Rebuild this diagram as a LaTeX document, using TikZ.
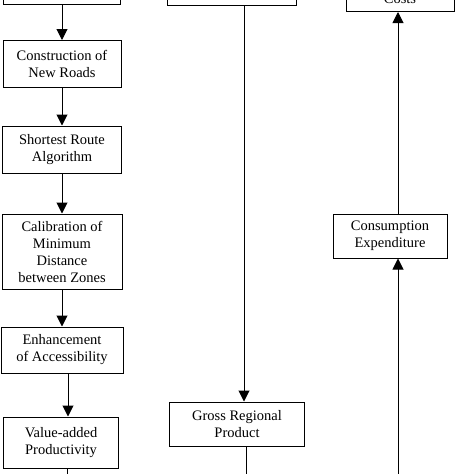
\documentclass[tikz,border=0pt]{standalone}
\usepackage{fontspec}
\setmainfont{Liberation Serif}
\usetikzlibrary{arrows.meta}
\tikzset{
  box/.style={draw,line width=1pt,align=center,inner sep=2pt,font=\fontsize{14.5}{17}\selectfont},
  arr/.style={-{Triangle[length=11pt,width=11pt]},line width=1pt},
  ln/.style={line width=1pt}
}
\begin{document}
\begin{tikzpicture}[x=1pt,y=-1pt]
\useasboundingbox (0,0) rectangle (474,474);
\clip (0,0) rectangle (474,474);
% left column
\node[box,anchor=south,minimum width=117,minimum height=50](top1)at(62,5){};
\node[box,minimum width=118,minimum height=47](road)at(62,64){Construction of\\New Roads};
\node[box,minimum width=119,minimum height=47](route)at(62,149.5){Shortest Route\\Algorithm};
\node[box,minimum width=120,minimum height=75](calib)at(62,251.5){Calibration of\\Minimum\\Distance\\between Zones};
\node[box,minimum width=122,minimum height=46](access)at(62,350){Enhancement\\of Accessibility};
\node[box,minimum width=115,minimum height=51](value)at(61,442.5){Value-added\\Productivity};
% middle column
\node[box,anchor=south,minimum width=129,minimum height=50](top2)at(232,6){};
\node[box,minimum width=135,minimum height=44](gdp)at(237,424){Gross Regional\\Product};
% right column
\node[box,anchor=south,minimum width=108,inner ysep=8pt](top3)at(400,12){Costs};
\node[box,minimum width=114,minimum height=44](cons)at(390,236){Consumption\\Expenditure};
\coordinate(out1)at([xshift=6pt]value.south|-0,480);
\coordinate(out2)at([xshift=9pt]gdp.south|-0,480);
\coordinate(in3)at(398,480);

\draw[arr](top1.south)--(road.north);
\draw[arr](road.south)--(route.north);
\draw[arr](route.south)--(route.south|-calib.north);
\draw[arr](calib.south)--(access.north);
\draw[arr]([xshift=6pt]access.south)--([xshift=6pt]access.south|-value.north);
\draw[ln]([xshift=6pt]value.south)--(out1);
\draw[arr]([xshift=12pt]top2.south)--([xshift=7pt]gdp.north);
\draw[ln]([xshift=9pt]gdp.south)--(out2);
\draw[arr](in3)--(in3|-cons.south);
\draw[arr](in3|-cons.north)--(in3|-top3.south);
\end{tikzpicture}
\end{document}
